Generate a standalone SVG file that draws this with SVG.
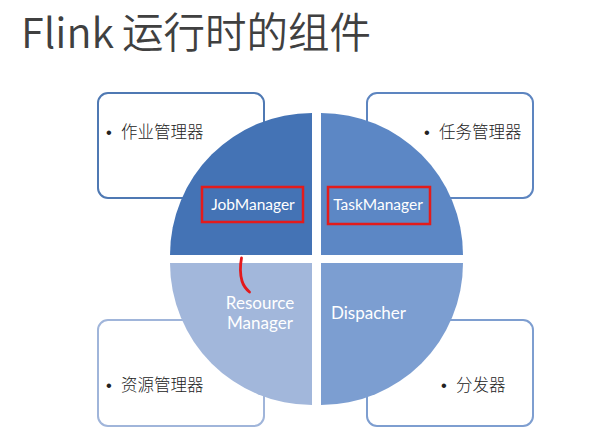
<svg xmlns="http://www.w3.org/2000/svg" width="603" height="447" viewBox="0 0 603 447">
<style>
.box{fill:#ffffff;stroke-width:2}
.lbl{font-family:"Noto Sans CJK SC","Liberation Sans",sans-serif;font-weight:300;font-size:16.5px;fill:#222222}
.dot{font-family:"Liberation Sans",sans-serif;font-weight:400}
.pie{font-family:Lato,"Liberation Sans",sans-serif;font-size:15.5px;fill:#ffffff}
.pie2{font-family:Lato,"Liberation Sans",sans-serif;font-size:17px;fill:#ffffff}
.red{fill:none;stroke:#e31b1b;stroke-width:2.5}
</style>
<rect width="603" height="447" fill="#ffffff"/>
<text x="21" y="48" font-family="'Noto Sans CJK SC',sans-serif" font-weight="350" font-size="41.5" fill="#404040">Flink<tspan x="122">运行时的组件</tspan></text>

<g id="box-jobmanager">
<rect class="box" x="98" y="93" width="166" height="105" rx="10" stroke="#4f79b3"/>
<text class="lbl" x="106" y="138"><tspan class="dot">•</tspan><tspan x="121">作业管理器</tspan></text>
</g>
<g id="box-taskmanager">
<rect class="box" x="367" y="93" width="166" height="105" rx="10" stroke="#5d85c0"/>
<text class="lbl" x="424" y="138"><tspan class="dot">•</tspan><tspan x="439">任务管理器</tspan></text>
</g>
<g id="box-resourcemanager">
<rect class="box" x="98" y="320" width="166" height="106" rx="10" stroke="#a0b5da"/>
<text class="lbl" x="106" y="391"><tspan class="dot">•</tspan><tspan x="121">资源管理器</tspan></text>
</g>
<g id="box-dispacher">
<rect class="box" x="367" y="320" width="166" height="106" rx="10" stroke="#7e9ed0"/>
<text class="lbl" x="441" y="391"><tspan class="dot">•</tspan><tspan x="456">分发器</tspan></text>
</g>

<g id="pie-jobmanager">
<path d="M312,255 L170,255 A142,142 0 0 1 312,113 Z" fill="#4473b5"/>
<text class="pie" x="253" y="210" text-anchor="middle">JobManager</text>
<rect class="red" x="202" y="187" width="101" height="35"/>
</g>
<g id="pie-taskmanager">
<path d="M321,255 L321,113 A142,142 0 0 1 463,255 Z" fill="#5c87c5"/>
<text class="pie" x="378" y="210" text-anchor="middle">TaskManager</text>
<rect class="red" x="328" y="187" width="102" height="37"/>
</g>
<g id="pie-dispacher">
<path d="M321,263 L463,263 A142,142 0 0 1 321,405 Z" fill="#7c9ed1"/>
<text class="pie2" x="331" y="319">Dispacher</text>
</g>
<g id="pie-resourcemanager">
<path d="M312,263 L312,405 A142,142 0 0 1 170,263 Z" fill="#a2b7db"/>
<text class="pie2" x="260" y="309" text-anchor="middle">Resource</text>
<text class="pie2" x="260" y="329" text-anchor="middle">Manager</text>
</g>

<g id="connectors">
<path d="M241.5,258 C240,266 240,274 242,281 C243.5,286 246,289 249.5,292" fill="none" stroke="#e3191c" stroke-width="2.8" stroke-linecap="round"/>
</g>
</svg>
